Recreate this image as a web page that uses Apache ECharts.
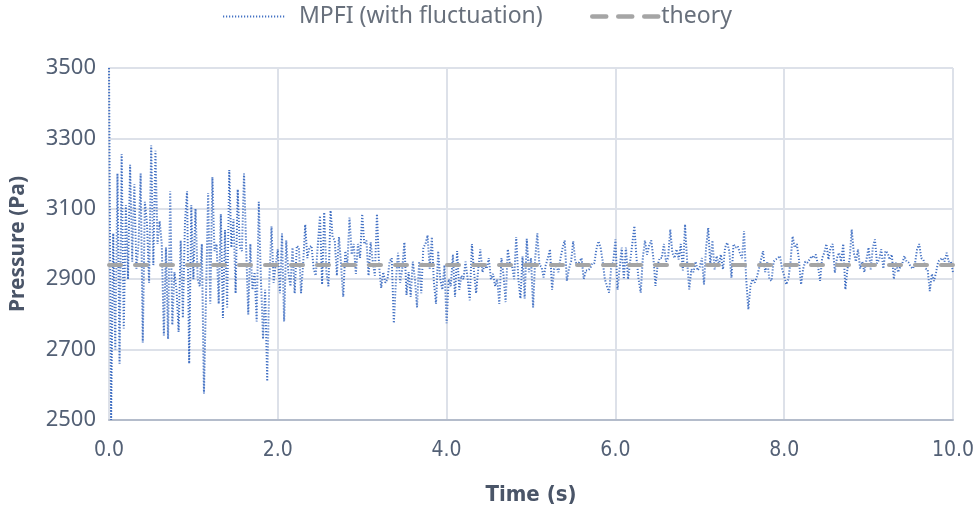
<!DOCTYPE html>
<html>
<head>
<meta charset="utf-8">
<script src="https://cdn.jsdelivr.net/npm/echarts@6/dist/echarts.min.js"></script>
<style>
html,body{margin:0;padding:0;background:#fff;}
#chart{width:977px;height:512px;}
</style>
</head>
<body>
<div id="chart"></div>
<script>
const timeStep = 0.025;
const mpfiValues = [
3500,2500,3030,2700,3200,2660,3255,2760,3110,2900,
3225,2950,3170,2930,3000,3200,2720,3120,3060,2890,
3280,2940,3265,3000,3065,3000,2740,2990,2730,3150,
2770,2920,2870,2750,3010,2790,3060,3150,2660,3110,
2900,3100,2900,2880,3000,2575,2860,3145,2830,3190,
2980,3000,2830,3085,2790,3040,2820,3210,2990,3070,
2860,3155,2990,2980,3200,2990,2800,3000,2870,2920,
2780,3120,2900,2730,2870,2610,2900,3050,2890,2940,
2985,2860,3030,2780,3010,2920,2880,2990,2860,2995,
2990,2860,2940,3055,2960,2990,2995,2930,2910,3000,
3080,2885,3090,2920,2880,3095,3020,3010,2910,3020,
2940,2850,2980,2940,3075,2970,3000,2915,3000,2960,
3085,3000,3010,2910,3005,2950,2910,3085,2940,2875,
2920,2890,2900,2950,2960,2775,2900,2975,2890,2930,
3005,2855,2920,2850,2950,2900,2820,2950,2860,2990,
3000,3025,2930,3020,2890,2830,2980,2900,2870,2940,
2775,2900,2880,2970,2850,2980,2870,2910,2900,2950,
2900,2840,3000,2920,2860,2930,2985,2920,2940,2930,
2960,2900,2915,2880,2900,2830,2960,2910,2835,2985,
2945,2940,2900,3020,2900,2845,2965,2845,3015,2920,
2960,2820,2960,3030,2940,2935,2905,2940,2960,2985,
2870,2930,2940,2920,2960,2990,3010,2895,2930,2950,
3008,2950,2940,2950,2960,2900,2925,2925,2930,2945,
2945,2985,3008,2990,2950,2900,2880,2862,2930,2950,
3013,2870,2930,2990,2900,2990,2900,2950,3000,3051,
2960,2900,2862,2960,3010,2970,2995,3010,2960,2881,
2940,2960,2960,3000,2950,2960,3041,2975,2960,2985,
2956,3000,2925,3056,2950,2871,2928,2920,2950,2925,
2935,2960,2885,2990,3046,2940,3010,2928,2966,2940,
2970,2928,2990,3004,2980,2904,3000,2990,2994,2975,
2960,3037,2900,2814,2880,2900,2890,2905,2928,2956,
2980,2920,2950,2900,2895,2950,2956,2960,2966,2930,
2909,2885,2900,2950,3022,2990,3000,2956,2885,2930,
2950,2947,2956,2966,2960,2970,2940,2895,2960,2975,
3000,2956,2990,3000,2918,2960,2975,2950,3000,2871,
2930,2956,3041,2975,2950,2985,2930,2950,2920,2956,
2990,2928,2990,3013,2945,2956,2985,2930,2980,2975,
2956,2970,2900,2947,2920,2935,2945,2966,2950,2947,
2935,2930,2945,2985,3000,2960,2956,2930,2928,2866,
2915,2895,2920,2950,2956,2960,2950,2975,2950,2950,
2920
];
const theoryValue = 2940;
const timeRange = [0, 10];
const seriesNames = ['MPFI (with fluctuation)', 'theory'];

const mpfiData = mpfiValues.map((v, i) => [+(i * timeStep).toFixed(3), v]);
const theoryData = timeRange.map(t => [t, theoryValue]);

const chart = echarts.init(document.getElementById('chart'), null, {renderer: 'canvas'});
const labelColor = '#536075';
const narrow = "'DejaVu Sans Condensed', Roboto, sans-serif";
const legendText = {fontSize: 23, color: '#68707c', fontFamily: 'Noto Sans'};
chart.setOption({
  animation: false,
  backgroundColor: '#ffffff',
  textStyle: {fontFamily: 'Noto Sans'},
  legend: [
    {
      top: 0,
      left: 217,
      itemWidth: 63,
      itemHeight: 14,
      itemStyle: {opacity: 0},
      lineStyle: {width: 2, type: [1.2, 1.8]},
      textStyle: Object.assign({padding: [0, 0, 0, 8]}, legendText),
      data: [seriesNames[0]]
    },
    {
      top: 0,
      left: 585,
      itemWidth: 72,
      itemHeight: 14,
      itemStyle: {opacity: 0},
      lineStyle: {width: 4.5, type: [14, 12], cap: 'round'},
      textStyle: Object.assign({padding: [0, 0, 0, -8]}, legendText),
      data: [seriesNames[1]]
    }
  ],
  grid: {left: 105, right: 17, top: 68, bottom: 92, containLabel: false},
  xAxis: {
    type: 'value',
    min: 0, max: 10, interval: 2,
    name: 'Time (s)',
    nameLocation: 'middle',
    nameGap: 64,
    nameTextStyle: {fontSize: 22, fontWeight: 'bold', color: '#4a5568', fontFamily: narrow},
    axisLine: {show: true, lineStyle: {color: '#b4bccb', width: 2}},
    axisTick: {show: false},
    axisLabel: {fontSize: 21, color: labelColor, margin: 20, fontFamily: narrow, formatter: v => v.toFixed(1)},
    splitLine: {show: true, lineStyle: {color: '#dde1e9', width: 2}}
  },
  yAxis: {
    type: 'value',
    min: 2500, max: 3500, interval: 200,
    name: 'Pressure (Pa)',
    nameLocation: 'middle',
    nameGap: 80,
    nameRotate: 90,
    nameTextStyle: {fontSize: 21, fontWeight: 'bold', color: '#4a5568'},
    axisLine: {show: true, lineStyle: {color: '#dde1e9', width: 2}},
    axisTick: {show: false},
    axisLabel: {fontSize: 22, color: labelColor, margin: 13, formatter: v => String(v)},
    splitLine: {show: true, lineStyle: {color: '#dde1e9', width: 2}}
  },
  series: [
    {
      name: seriesNames[0],
      type: 'line',
      data: mpfiData,
      showSymbol: false,
      symbol: 'none',
      lineStyle: {color: '#4472c4', width: 2, type: [1.2, 1.8]},
      itemStyle: {color: '#4472c4'},
      z: 2
    },
    {
      name: seriesNames[1],
      type: 'line',
      data: theoryData,
      showSymbol: false,
      symbol: 'none',
      lineStyle: {color: '#a5a5a5', width: 4, type: [12, 14], cap: 'round'},
      itemStyle: {color: '#a5a5a5'},
      z: 3
    }
  ]
});
</script>
</body>
</html>
